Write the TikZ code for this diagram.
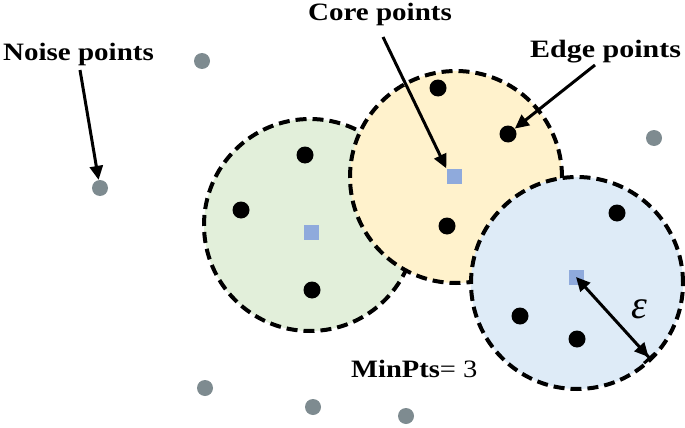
\documentclass[tikz,border=0pt]{standalone}
\usepackage{fontspec}
\setmainfont{Liberation Serif}
\usepackage{graphicx}
\usetikzlibrary{arrows.meta}
\definecolor{gfill}{HTML}{E2EFDA}
\definecolor{yfill}{HTML}{FFF2CC}
\definecolor{bfill}{HTML}{DEEBF7}
\definecolor{sqblue}{HTML}{8FAADC}
\definecolor{noisegray}{HTML}{7E8B90}
\begin{document}
\begin{tikzpicture}[x=1pt,y=-1pt,
  zone/.style={circle,draw=black,dash pattern=on 11pt off 6pt,line width=4pt,minimum size=212pt,inner sep=0pt,outer sep=0pt},
  blk/.style={circle,fill=black,inner sep=0pt,minimum size=17pt},
  noise/.style={circle,fill=noisegray,inner sep=0pt,minimum size=16pt},
  core/.style={rectangle,fill=sqblue,inner sep=0pt,minimum size=15pt},
  lbl/.style={anchor=base west,inner sep=0pt,font=\fontsize{25}{30}\selectfont},
  ptr/.style={line width=3pt,-{Triangle[length=14pt,width=13pt]}}]
\useasboundingbox (0,0) rectangle (685,428);
% zones
\node[zone,fill=gfill] (gz) at (310,225) {};
\node[zone,fill=yfill] (yz) at (456,177) {};
\node[zone,fill=bfill] (bz) at (577,283) {};
% black points
\node[blk] (g1) at (305,155) {};
\node[blk] (g2) at (241,210) {};
\node[blk] (g3) at (312,290) {};
\node[blk] (y1) at (438,88) {};
\node[blk] (y2) at (508,134) {};
\node[blk] (y3) at (447,226) {};
\node[blk] (b1) at (617,213) {};
\node[blk] (b2) at (520,316) {};
\node[blk] (b3) at (577,339) {};
% core squares
\node[core] (c1) at (311,232) {};
\node[core] (c2) at (454,176) {};
\node[core] (c3) at (576,277) {};
% noise points
\node[noise] (n1) at (202,61) {};
\node[noise] (n2) at (100,188) {};
\node[noise] (n3) at (654,138) {};
\node[noise] (n4) at (205,388) {};
\node[noise] (n5) at (313,407) {};
\node[noise] (n6) at (406,416) {};
% labels
\node[lbl] (tnoise) at (3,60) {\scalebox{1.16}[1]{\textbf{Noise points}}};
\node[lbl] (tcore) at (308,21) {\scalebox{1.16}[1]{\textbf{Core points}}};
\node[lbl] (tedge) at (530,57) {\scalebox{1.2}[1]{\textbf{Edge points}}};
\node[lbl] (tmin) at (351,377) {\scalebox{1.14}[1]{\textbf{MinPts}= 3}};
\node[inner sep=0pt,font=\fontsize{40}{42}\selectfont\itshape] (eps) at (639,309) {ε};
% connectors
\coordinate (an) at (80,70);
\coordinate (ac) at (383,37);
\coordinate (ae) at (595,65);
\draw[ptr] (an) -- (n2);
\draw[ptr] (ac) -- (c2.north west);
\draw[ptr] (ae) -- (y2);
\draw[line width=3pt,{Triangle[length=14pt,width=13pt]}-{Triangle[length=14pt,width=13pt]Bar[width=15pt,line width=3pt]}] (c3.center) -- (bz.-46);
\end{tikzpicture}
\end{document}
